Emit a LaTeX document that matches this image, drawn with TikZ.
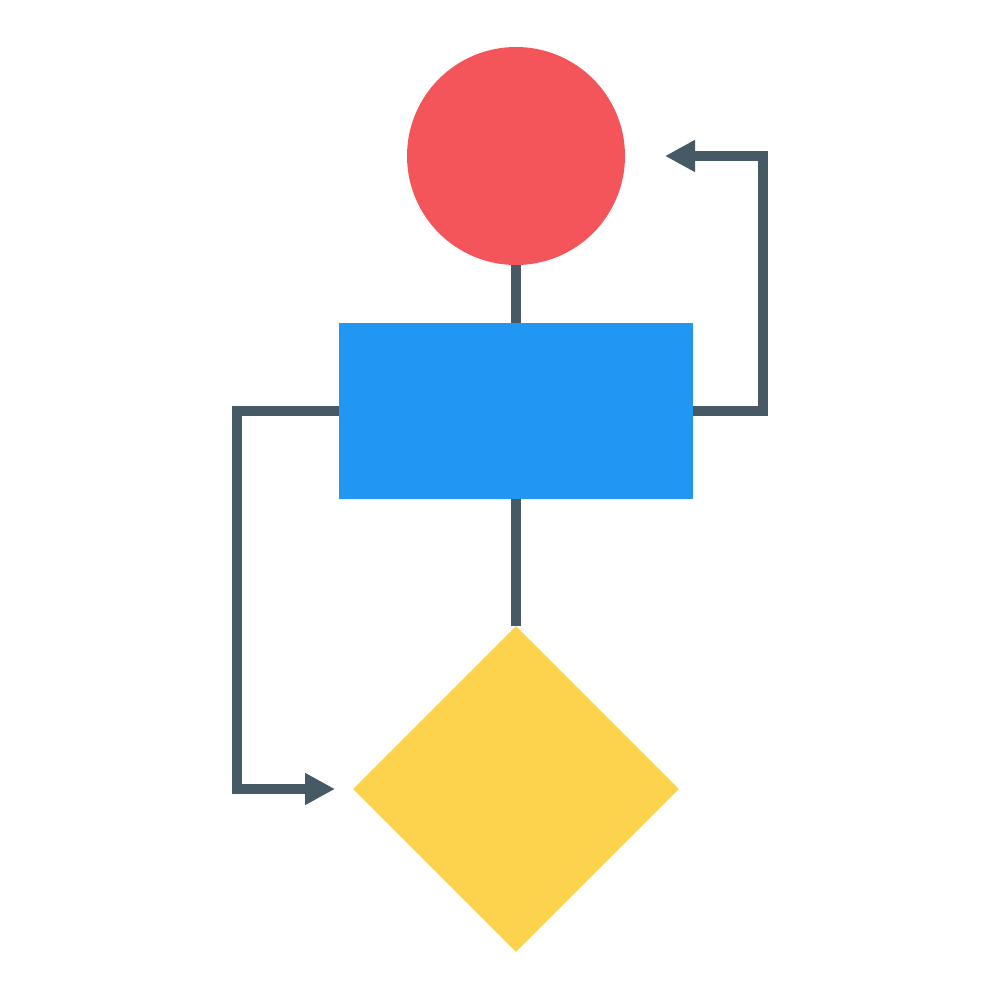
\documentclass[tikz,border=0pt]{standalone}
\usetikzlibrary{shapes.geometric,arrows.meta,backgrounds}
\definecolor{lineC}{HTML}{455A64}
\definecolor{blueC}{HTML}{2196F3}
\definecolor{redC}{HTML}{F4555A}
\definecolor{yellowC}{HTML}{FDD34D}
\tikzset{
  conn/.style={draw=lineC, line width=10pt, line join=miter, line cap=butt},
  arr/.style={conn, -{Triangle[length=30pt,width=30pt]}},
  startnode/.style={circle, fill=redC, draw=none, minimum size=218pt, inner sep=0pt},
  procnode/.style={rectangle, fill=blueC, draw=none, minimum width=354pt, minimum height=176pt, inner sep=0pt},
  decnode/.style={diamond, fill=yellowC, draw=none, minimum width=326pt, minimum height=326pt, inner sep=0pt, aspect=1},
}
\begin{document}
\begin{tikzpicture}[x=1pt,y=-1pt]
\useasboundingbox (0,0) rectangle (1000,1000);
\node[startnode] (circ) at (516,156) {};
\node[procnode] (rect) at (516,411) {};
\node[decnode] (dia) at (516,789) {};
\coordinate (ctip) at (665,156);
\coordinate (rc) at (763,411);
\coordinate (lc) at (237,411);
\coordinate (dtip) at (335,789);
\begin{scope}[on background layer]
\fill[white] (0,0) rectangle (1000,1000);
\draw[conn] (circ.south) -- (rect.north);
\draw[conn] (rect.south) -- (dia.north);
\end{scope}
\draw[arr] (rect.east) -- (rc) |- (ctip);
\draw[arr] (rect.west) -- (lc) |- (dtip);
\end{tikzpicture}
\end{document}
